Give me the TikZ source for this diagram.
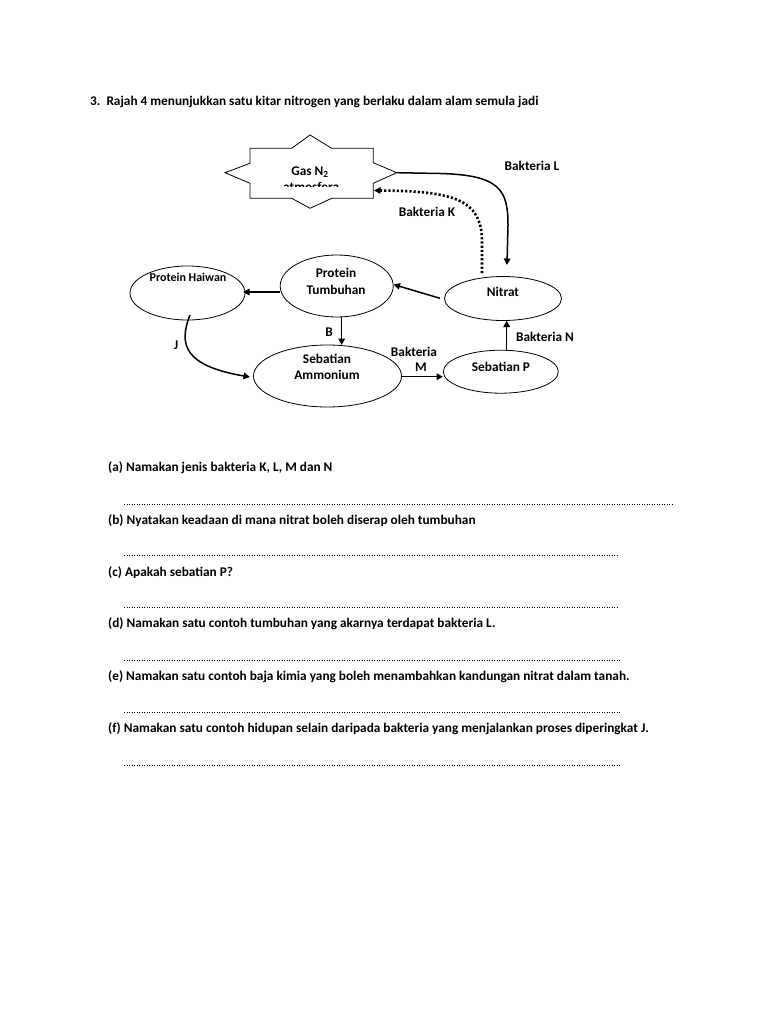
\documentclass[tikz,border=0pt]{standalone}
\usepackage{fontspec}
\setmainfont{Carlito}
\usetikzlibrary{shapes.geometric,arrows.meta}
\begin{document}
\begin{tikzpicture}[x=1pt,y=-1pt,
  font=\bfseries\fontsize{13.3}{15.5}\selectfont,
  ell/.style={draw, ellipse, inner sep=0pt, line width=0.8pt},
  lbl/.style={inner sep=0pt, align=center},
  arr/.style={-{Triangle[length=6.5pt,width=6.5pt]}, line width=1.5pt},
  dotarr/.style={-{Triangle[length=6.5pt,width=6.5pt]}, line width=2.6pt, dash pattern=on 2.2pt off 2pt},
  q/.style={anchor=base west, inner sep=0pt},
  ans/.style={line width=0.9pt, dash pattern=on 0.9pt off 1.6pt}]
\useasboundingbox[fill=white] (0,0) rectangle (768,1024);

% title
\node[q] (title) at (90,105.5) {3.\ \ Rajah 4 menunjukkan satu kitar nitrogen yang berlaku dalam alam semula jadi};

% star shape (Gas N2 atmosfera)
\draw[line width=0.8pt] (225,172.7) -- (250,163.3) -- (250,148.3) -- (291.7,148.3) -- (310,135)
  -- (331.7,148.3) -- (373.3,148.3) -- (373.3,162.7) -- (396.7,172.7) -- (373.3,183.3)
  -- (373.3,198.3) -- (331.7,198.3) -- (310,208.3) -- (291.7,198.3) -- (250,198.3)
  -- (250,183.3) -- cycle;
\coordinate (gasR) at (396.7,172.7);
\coordinate (gasK) at (374,190.5);
\node[lbl] (gas) at (310,172) {Gas N\textsubscript{2}};
\begin{scope}
  \clip (250,150) rectangle (373,187);
  \node[q] (atm) at (283,191.5) {atmosfera};
\end{scope}

% ellipses
\node[ell, minimum width=115pt, minimum height=54pt] (haiwan) at (187.5,293) {};
\node[ell, minimum width=113pt, minimum height=62pt] (tumbuhan) at (336.7,286) {};
\node[ell, minimum width=117pt, minimum height=44pt] (nitrat) at (503,298.5) {};
\node[ell, minimum width=148pt, minimum height=62pt] (ammon) at (327.5,376) {};
\node[ell, minimum width=115pt, minimum height=43pt] (sebp) at (500.8,371.7) {};

\node[lbl, font=\bfseries\fontsize{12}{14}\selectfont] (thaiwan) at (188,277) {Protein Haiwan};
\node[lbl] (ttumb) at (336,281.5) {Protein\\[1pt]Tumbuhan};
\node[lbl] (tnitrat) at (503,292) {Nitrat};
\node[lbl] (tammon) at (327,367) {Sebatian\\[1pt]Ammonium};
\node[lbl] (tsebp) at (501,367) {Sebatian P};

% connectors
\coordinate (nitTop) at (507,265);
\draw[arr] (gasR) -- (440,173.5) .. controls (500,175) and (508,190) .. (508,225) -- (nitTop);
\coordinate (nitK) at (482,273);
\draw[dotarr] (nitK) -- (482,240) .. controls (481,200) and (455,191) .. (gasK);

\draw[arr] (tumbuhan.west |- 0,292) -- (243,292);
\draw[arr] (440,298.3) -- (393.5,284.5);
\draw[arr] (341.7,317) -- (341.7,345);
\coordinate (hB) at (190,315);
\draw[arr] (hB) .. controls (178,345) and (185,366) .. (250,377);
\draw[arr] (401.7,376.7) -- (443,376.7);
\draw[arr] (506.7,350.5) -- (506.7,320.5);

% labels
\node[lbl] (lL) at (532,166) {Bakteria L};
\node[lbl] (lK) at (427,212) {Bakteria K};
\node[lbl] (lB) at (329,332) {B};
\node[lbl] (lJ) at (176,345) {J};
\node[lbl] (lM) at (414,359.5) {Bakteria\\[0pt]\hspace*{14pt}M};
\node[lbl] (lN) at (545,337) {Bakteria N};

% questions
\node[q] (qa) at (108,471) {(a) Namakan jenis bakteria K, L, M dan N};
\draw[ans] (124,504) -- (673,504);
\node[q] (qb) at (108,524) {(b) Nyatakan keadaan di mana nitrat boleh diserap oleh tumbuhan};
\draw[ans] (124,555.5) -- (617,555.5);
\node[q] (qc) at (108,576) {(c) Apakah sebatian P?};
\draw[ans] (124,607.5) -- (617,607.5);
\node[q] (qd) at (108,627) {(d) Namakan satu contoh tumbuhan yang akarnya terdapat bakteria L.};
\draw[ans] (124,660.5) -- (621,660.5);
\node[q] (qe) at (108,680) {(e) Namakan satu contoh baja kimia yang boleh menambahkan kandungan nitrat dalam tanah.};
\draw[ans] (124,712.5) -- (621,712.5);
\node[q] (qf) at (108,732) {(f) Namakan satu contoh hidupan selain daripada bakteria yang menjalankan proses diperingkat J.};
\draw[ans] (124,765.5) -- (621,765.5);
\end{tikzpicture}
\end{document}
